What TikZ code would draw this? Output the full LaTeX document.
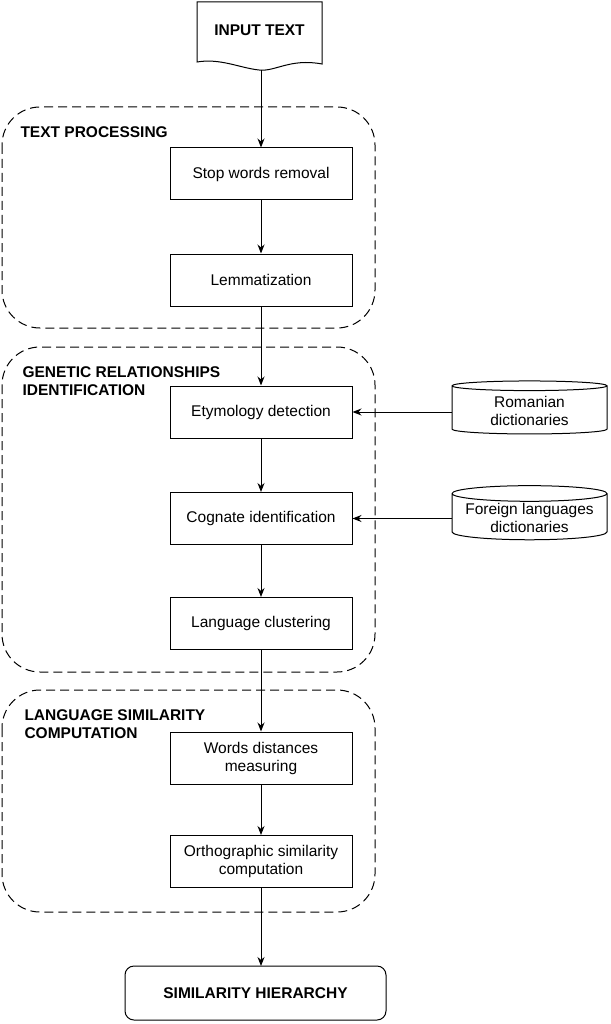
\documentclass[tikz,border=0pt]{standalone}
\usepackage{fontspec}
\setmainfont{Liberation Sans}
\usetikzlibrary{shapes.geometric,arrows.meta}
\begin{document}
\begin{tikzpicture}[x=1pt,y=-1pt,font=\fontsize{15.5}{18}\selectfont,line width=1pt,
  box/.style={draw,minimum width=182pt,minimum height=52pt,align=center,inner sep=2pt},
  grp/.style={draw,dashed,dash pattern=on 9pt off 5pt,rounded corners=38pt},
  glab/.style={font=\fontsize{15.5}{18}\selectfont\bfseries,anchor=north west,align=left,inner sep=0pt},
  db/.style={draw,cylinder,shape border rotate=90,aspect=0.12,minimum width=155pt,minimum height=53pt,align=center,inner sep=1pt},
  arr/.style={-{Stealth[length=9pt,width=7pt]}}]
\useasboundingbox (0,0) rectangle (610,1024);
\draw[grp] (2,107) rectangle (375,328);
\draw[grp] (2,347) rectangle (375,672);
\draw[grp] (2,690) rectangle (375,912);
\node[glab] (g1) at (20,126) {TEXT PROCESSING};
\node[glab] (g2) at (22,366) {GENETIC RELATIONSHIPS\\IDENTIFICATION};
\node[glab] (g3) at (24,709) {LANGUAGE SIMILARITY\\COMPUTATION};
\draw (197,2) -- (322,2) -- (322,64) .. controls (290,58) and (275,72) .. (259,70) .. controls (240,68) and (220,58) .. (197,62) -- cycle;
\node[font=\fontsize{15.5}{18}\selectfont\bfseries] (in) at (259.5,30) {INPUT TEXT};
\coordinate (inb) at (261,70);
\node[box] (sw) at (261,174) {Stop words removal};
\node[box] (lem) at (261,280) {Lemmatization};
\node[box] (ety) at (261,412) {Etymology detection};
\node[box] (cog) at (261,518.5) {Cognate identification};
\node[box] (clu) at (261,623.5) {Language clustering};
\node[box] (wd) at (261,758) {Words distances\\measuring};
\node[box] (orth) at (261,861.5) {Orthographic similarity\\computation};
\node[draw,rounded corners=9pt,minimum width=261pt,minimum height=54pt,font=\fontsize{15.5}{18}\selectfont\bfseries] (sim) at (255.5,993) {SIMILARITY HIERARCHY};
\node[db] (rd) at (529.5,410.5) {Romanian\\dictionaries};
\node[db] (fd) at (529.5,517.5) {Foreign languages\\dictionaries};
\coordinate (ob) at (261,887.5);
\coordinate (st) at (261,966);
\draw[arr] (inb) -- (sw);
\draw[arr] (sw) -- (lem);
\draw[arr] (lem) -- (ety);
\draw[arr] (ety) -- (cog);
\draw[arr] (cog) -- (clu);
\draw[arr] (clu) -- (wd);
\draw[arr] (wd) -- (orth);
\draw[arr] (ob) -- (st);
\draw[arr] (rd.west |- ety) -- (ety);
\draw[arr] (fd.west |- cog) -- (cog);
\end{tikzpicture}
\end{document}
